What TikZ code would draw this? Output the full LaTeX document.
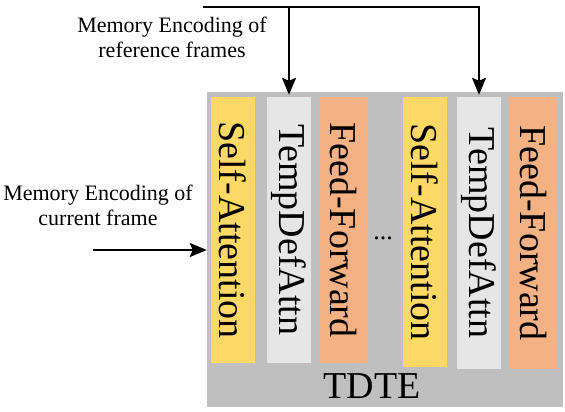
\documentclass[tikz,border=0pt]{standalone}
\usepackage{fontspec}
\setmainfont{Liberation Serif}
\usetikzlibrary{arrows.meta}
\definecolor{attnyellow}{HTML}{FFD966}
\definecolor{defgray}{HTML}{E6E6E6}
\definecolor{ffdorange}{HTML}{F4B183}
\definecolor{boxgray}{HTML}{BFBFBF}

\begin{document}
\begin{tikzpicture}[x=1pt,y=-1pt,
    layer/.style={rotate=-90,minimum width=266pt,minimum height=44pt,inner sep=0pt,font=\fontsize{38}{40}\selectfont},
    memtext/.style={align=center,inner sep=0pt,font=\fontsize{22}{25}\selectfont},
    feed/.style={line width=2.2pt,-{Stealth[length=17pt,width=14pt,inset=3pt]}}]
        \useasboundingbox (0,0) rectangle (565,412);
        % Encoder box
        \node[fill=boxgray,minimum width=356pt,minimum height=315pt,inner sep=0pt] (tdte) at (385,249.5) {};
        \node[inner sep=0pt,font=\fontsize{38}{40}\selectfont] (tdtelabel) at (372,386) {TDTE};
        % First block
        \node[layer,fill=attnyellow] (sa1) at (233,230) {Self-Attention};
        \node[layer,fill=defgray] (tda1) at (289,230) {TempDefAttn};
        \node[layer,fill=ffdorange,minimum height=48pt] (ff1) at (343,230) {Feed-Forward};
        \node[inner sep=0pt,font=\fontsize{26}{28}\selectfont] (dots) at (383,238) {...};
        % Last block
        \node[layer,fill=attnyellow,minimum width=270pt] (sa2) at (425,232) {Self-Attention};
        \node[layer,fill=defgray,minimum width=272pt] (tda2) at (479,233) {TempDefAttn};
        \node[layer,fill=ffdorange,minimum width=272pt,minimum height=48pt] (ff2) at (533,233) {Feed-Forward};
        % Reference frames
        \node[memtext] (reflabel) at (172,37) {Memory Encoding of\\reference frames};
        \coordinate (refstart) at (203,7);
        \draw[feed] (refstart) -| ([yshift=2pt]tda2.west);
        \draw[feed] (tda1.west |- refstart) -- ([yshift=2pt]tda1.west);
        % Current frame
        \node[memtext] (curlabel) at (98,205) {Memory Encoding of\\current frame};
        \coordinate (curstart) at (93,250);
        \draw[feed] (curstart) -- (curstart -| tdte.west);
\end{tikzpicture}
\end{document}
